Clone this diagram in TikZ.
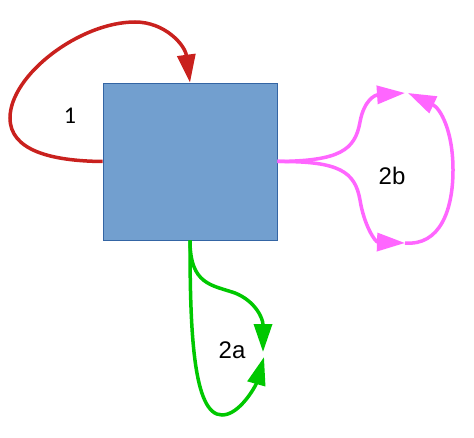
\documentclass[tikz,border=0pt]{standalone}
\usepackage{fontspec}
\setmainfont{Liberation Sans}
\newfontfamily\carlito{Carlito}
\usetikzlibrary{arrows.meta}
\definecolor{boxfill}{HTML}{729FCF}
\definecolor{boxline}{HTML}{3465A4}
\definecolor{redc}{HTML}{C9211E}
\definecolor{magc}{HTML}{FF66FF}
\definecolor{grnc}{HTML}{00C800}
\tikzset{
  blockbox/.style={draw=boxline, line width=0.8bp, fill=boxfill, minimum width=174bp, minimum height=157bp, inner sep=0pt},
  conn/.style={line width=3.5bp, -{Triangle[length=28bp,width=18bp]}},
  plainconn/.style={line width=3.5bp},
  lbl/.style={font=\fontsize{24bp}{28bp}\selectfont, inner sep=0pt}
}
\begin{document}
\begin{tikzpicture}[x=1bp,y=-1bp]
\useasboundingbox (0,0) rectangle (474,438);
\node[blockbox] (b) at (190,161.5) {};
\coordinate (m1) at (405,93);
\coordinate (m2) at (408,93);
\coordinate (m3) at (405,243);
\coordinate (g1) at (263,352);
\coordinate (g2) at (264,357);
% red loop
\draw[conn, redc] (b.west) .. controls (50,161) and (10,150) .. (10,118)
  .. controls (10,75) and (80,22) .. (135,22)
  .. controls (165,22) and (185,45) .. (b.north);
% magenta
\draw[conn, magc] (b.east) .. controls (340,161) and (355,150) .. (360,122)
  .. controls (364,100) and (375,95) .. (m1);
\draw[conn, magc] (b.east) .. controls (340,161) and (355,172) .. (360,200)
  .. controls (364,225) and (375,242) .. (m3);
\draw[conn, magc] (m3) .. controls (440,246) and (453,210) .. (453,170)
  .. controls (453,130) and (440,108) .. (m2);
% green
\draw[conn, grnc] (b.south) .. controls (190,285) and (212,285) .. (235,293)
  .. controls (255,301) and (263,318) .. (g1);
\draw[conn, grnc] (b.south) .. controls (190,330) and (193,415) .. (222,415)
  .. controls (240,415) and (256,385) .. (g2);
% labels
\node[lbl] (l1) at (70,116) {\carlito 1};
\node[lbl] (l2a) at (232,350) {2a};
\node[lbl] (l2b) at (392,176) {2b};
\end{tikzpicture}
\end{document}
